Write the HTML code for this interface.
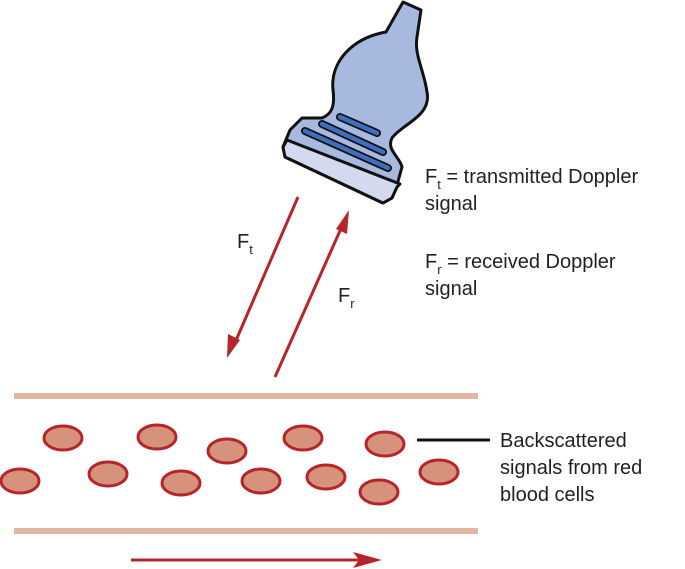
<!DOCTYPE html>
<html><head><style>body{margin:0;background:#fff}svg{display:block}text{font-family:"Liberation Sans",sans-serif;font-size:20px;fill:#231f20}</style></head><body>
<svg width="685" height="569" viewBox="0 0 685 569" xmlns="http://www.w3.org/2000/svg">
<path d="M403,2 L386,32 C352,38 330,62 333,90 C335,106 332,114 322,118 L302,118 L290,130 L283,147 L285,157 L383,203 L392,198 L397,185 L402,167 C400,157 386,150 392,138 C402,124 432,116 427,92 C424,70 414,55 417,37 L421,10 Z" fill="#a7b9df" stroke="#111" stroke-width="3" stroke-linejoin="round"/>
<path d="M287,140 L400,184 L397,187 L392,198 L383,203 L285,157 L283,147 Z" fill="#d3d9ee" stroke="#111" stroke-width="3" stroke-linejoin="round"/>
<g stroke="#111" stroke-width="8" stroke-linecap="round"><line x1="340" y1="117" x2="377" y2="133"/><line x1="322" y1="124" x2="383" y2="152"/><line x1="305" y1="131" x2="388" y2="168"/></g>
<g stroke="#3e6fbf" stroke-width="4.5" stroke-linecap="round"><line x1="340" y1="117" x2="377" y2="133"/><line x1="322" y1="124" x2="383" y2="152"/><line x1="305" y1="131" x2="388" y2="168"/></g>
<g stroke="#b5252b" stroke-width="3" fill="#b5252b">
<line x1="298" y1="197" x2="234" y2="345"/><polygon points="227,358 228,334 240,340" stroke="none"/>
<line x1="275" y1="377" x2="343" y2="224"/><polygon points="349,210 347,234 336,229" stroke="none"/>
<line x1="131" y1="560" x2="368" y2="560"/><polygon points="382,560 353,552 359,560 353,568" stroke="none"/>
</g>
<rect x="14" y="393" width="464" height="6" fill="#e4b5a1"/>
<rect x="14" y="528" width="464" height="6" fill="#e4b5a1"/>
<g fill="#d6927a" stroke="#b5252b" stroke-width="3">
<ellipse cx="63" cy="438" rx="19" ry="12"/><ellipse cx="157" cy="437" rx="19" ry="12"/><ellipse cx="227" cy="451" rx="19" ry="12"/><ellipse cx="303" cy="438" rx="19" ry="12"/><ellipse cx="385" cy="444" rx="19" ry="12"/>
<ellipse cx="20" cy="481" rx="19" ry="12"/><ellipse cx="108" cy="474" rx="19" ry="12"/><ellipse cx="181" cy="483" rx="19" ry="12"/><ellipse cx="261" cy="481" rx="19" ry="12"/><ellipse cx="326" cy="477" rx="19" ry="12"/><ellipse cx="379" cy="492" rx="19" ry="12"/><ellipse cx="439" cy="472" rx="19" ry="12"/>
</g>
<line x1="417" y1="440" x2="490" y2="440" stroke="#111" stroke-width="3"/>
<text x="237" y="248">F<tspan font-size="13" dy="6">t</tspan></text>
<text x="338" y="302">F<tspan font-size="13" dy="6">r</tspan></text>
<text x="425" y="183">F<tspan font-size="13" dy="6">t</tspan><tspan dy="-6"> = transmitted Doppler</tspan></text>
<text x="425" y="210">signal</text>
<text x="425" y="268">F<tspan font-size="13" dy="6">r</tspan><tspan dy="-6"> = received Doppler</tspan></text>
<text x="425" y="295">signal</text>
<text x="500" y="447">Backscattered</text>
<text x="500" y="474">signals from red</text>
<text x="500" y="501">blood cells</text>
</svg>
</body></html>
